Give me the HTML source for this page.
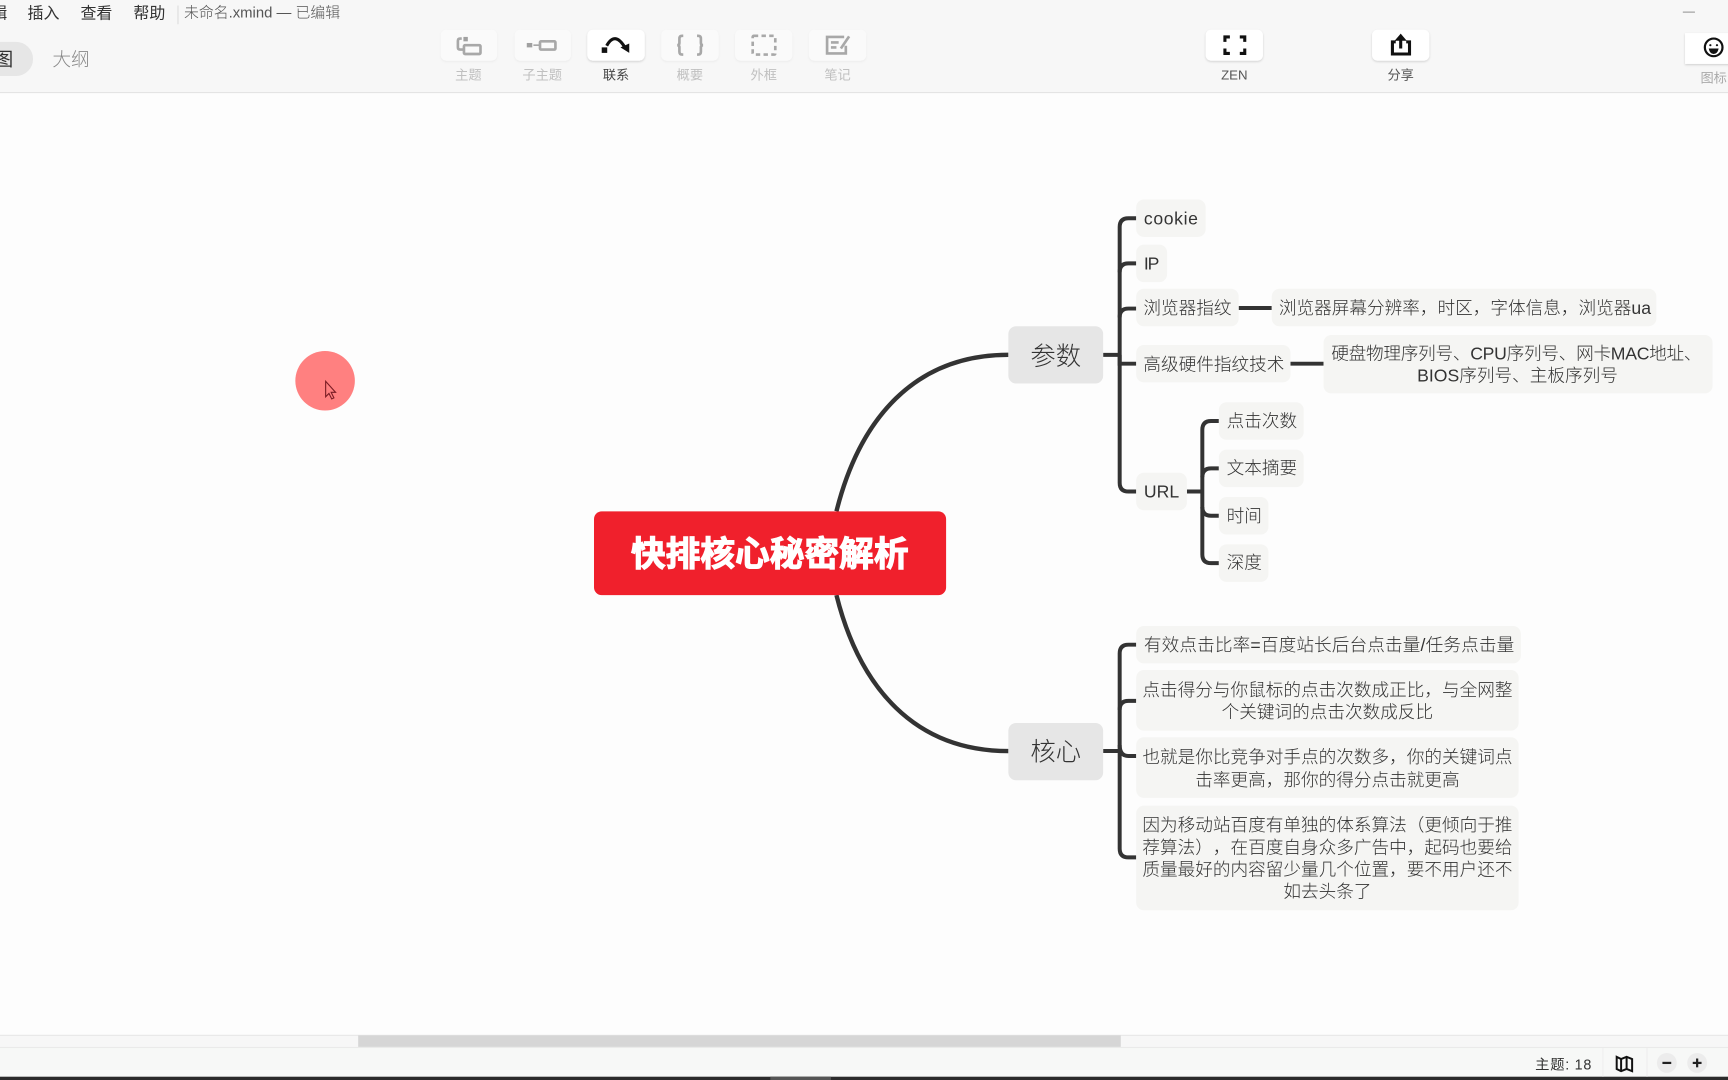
<!DOCTYPE html>
<html><head><meta charset="utf-8"><style>
html,body{margin:0;padding:0;width:1728px;height:1080px;overflow:hidden;background:#fdfdfd}
svg{display:block}
text{font-family:"Liberation Sans","Noto Sans CJK SC",sans-serif;fill:#333;text-spacing-trim:space-all;font-feature-settings:"palt" 0}
.c{text-anchor:middle}
.n{font-size:16px;font-weight:300}
.b{fill:#f5f5f3}
.l{fill:none;stroke:#333;stroke-width:3.6}
.on{fill:#fff}
.off{fill:#fafafa}
.lab{font-size:12px;fill:#c0c0c0;text-anchor:middle}
.g{fill:none;stroke:#a8a8a8;stroke-width:2.4}
.k{fill:none;stroke:#111;stroke-width:2.8}
.m{font-size:14.5px;fill:#333}
</style></head><body>
<svg width="1728" height="1080" viewBox="0 0 1568 980" xmlns="http://www.w3.org/2000/svg">
<defs>
<filter id="s" x="-20%" y="-20%" width="140%" height="150%"><feDropShadow dx="0" dy="1" stdDeviation="1" flood-color="#000" flood-opacity=".16"/></filter>
<filter id="s2" x="-20%" y="-20%" width="140%" height="150%"><feDropShadow dx="0" dy="1" stdDeviation="1" flood-color="#000" flood-opacity=".05"/></filter>
</defs>
<rect width="1568" height="980" fill="#fdfdfd"/>
<!-- top bar -->
<rect width="1568" height="84" fill="#f7f7f7"/>
<rect y="83.500" width="1568" height="1" fill="#e4e4e4"/>
<text x="-8" y="17" class="m">辑</text>
<text x="25" y="17" class="m">插入</text>
<text x="73" y="17" class="m">查看</text>
<text x="121" y="17" class="m">帮助</text>
<rect x="161" y="5" width="1" height="17" fill="#ddd"/>
<text x="167" y="16" font-size="13.500" style="fill:#555;font-weight:300">未命名.xmind — 已编辑</text>
<rect x="1527" y="10.500" width="11" height="1" fill="#999"/>
<rect x="-30" y="38" width="60" height="31" rx="15.500" fill="#e6e6e6"/>
<text x="-5" y="60" font-size="17" style="fill:#333">图</text>
<text x="47.500" y="60" font-size="17" style="fill:#888;font-weight:300">大纲</text>

<!-- toolbar buttons -->
<rect x="400" y="27" width="51" height="28" rx="5" class="off" filter="url(#s2)"/>
<rect x="467" y="27" width="51" height="28" rx="5" class="off" filter="url(#s2)"/>
<rect x="533" y="27" width="52" height="28" rx="5" class="on" filter="url(#s)"/>
<rect x="600" y="27" width="52" height="28" rx="5" class="off" filter="url(#s2)"/>
<rect x="667" y="27" width="52" height="28" rx="5" class="off" filter="url(#s2)"/>
<rect x="734" y="27" width="52" height="28" rx="5" class="off" filter="url(#s2)"/>
<rect x="1094" y="27" width="52" height="28" rx="5" class="on" filter="url(#s)"/>
<rect x="1245" y="27" width="52" height="28" rx="5" class="on" filter="url(#s)"/>
<rect x="1529" y="30" width="50" height="28" class="on" filter="url(#s)"/>
<!-- topic icon -->
<rect x="420.500" y="33.500" width="4" height="4" fill="#a0a0a0"/>
<path d="M419 35h-1.500q-2 0-2 2v6q0 2 2 2h3" class="g"/><rect x="421" y="41" width="15" height="8" rx="1" class="g"/>
<!-- subtopic icon -->
<rect x="478" y="39" width="5" height="4" fill="#a0a0a0"/><rect x="490" y="37.500" width="14" height="7.500" rx="1" class="g"/><path d="M484 41h6" class="g" style="stroke-width:1.500"/>
<!-- relationship icon -->
<rect x="546" y="43" width="5" height="5" fill="#111"/>
<path d="M550.500 41.500Q558 28 567 43" class="k"/><path d="M571 48l-8-5 8-3.500z" fill="#111"/>
<!-- summary -->
<path d="M620 32.500h-1q-2.500 0-2.500 2.500v4q0 2-2 2 2 0 2 2v4q0 2.500 2.500 2.500h1M632.500 32.500h1q2.500 0 2.500 2.500v4q0 2 2 2-2 0-2 2v4q0 2.500-2.500 2.500h-1" class="g"/>
<!-- boundary -->
<rect x="683" y="32.500" width="20.500" height="17" rx="1" class="g" stroke-dasharray="4 3"/>
<!-- note -->
<path d="M766 33.500h-15.500v15h17v-7" class="g"/><path d="M754 38.500h7M754 43h5" class="g"/><path d="M763 44l7.500-11" class="g"/>
<!-- ZEN icon -->
<path d="M1111.500 38v-4.500h4.500M1125 33.500h4.500v4.500M1129.500 44v4.500h-4.500M1116 48.500h-4.500v-4.500" class="k"/>
<!-- share icon -->
<path d="M1266.500 38h-3v11h15.500v-11h-3" class="k"/><path d="M1271 44v-10" class="k"/><path d="M1265.500 37l5.500-6.500 5.500 6.500z" fill="#111"/>
<!-- emoji icon -->
<circle cx="1555" cy="43" r="8" fill="#fff" stroke="#111" stroke-width="2"/><circle cx="1552" cy="41" r="1" fill="#111"/><circle cx="1558" cy="41" r="1" fill="#111"/><path d="M1550.500 44h9q-1 5-4.500 5t-4.500-5z" fill="#111"/>

<text x="425" y="72" class="lab">主题</text>
<text x="492" y="72" class="lab">子主题</text>
<text x="559" y="72" class="lab" style="fill:#444">联系</text>
<text x="626" y="72" class="lab">概要</text>
<text x="693" y="72" class="lab">外框</text>
<text x="760" y="72" class="lab">笔记</text>
<text x="1120" y="72" class="lab" style="fill:#555">ZEN</text>
<text x="1271" y="72" class="lab" style="fill:#555">分享</text>
<text x="1543" y="75" font-size="12" style="fill:#aaa">图标</text>

<!-- cursor highlight -->
<circle cx="295" cy="345.500" r="27" fill="#ff8080"/>
<path d="M295.500 346v14l3-3 2.500 5 2-1-2.500-5h4z" fill="#ff8080" stroke="#7a1c24" stroke-width="1"/>

<!-- connectors -->
<path class="l" style="stroke-width:4" d="M759 464C780 380 830 322 915 322"/>
<path class="l" style="stroke-width:4" d="M759 540C780 624 830 681.500 915 681.500"/>
<path class="l" d="M1001 322H1016M1031 198H1024Q1016 198 1016 206V438Q1016 446 1024 446H1031"/>
<path class="l" d="M1031 239H1024Q1016 239 1016 247M1031 280H1024Q1016 280 1016 288M1016 322V330H1031"/>
<path class="l" d="M1124 279.500H1154M1171 330H1201"/>
<path class="l" d="M1077 446H1091M1106 382H1099Q1091 382 1091 390V503Q1091 511 1099 511H1106"/>
<path class="l" d="M1106 425H1099Q1091 425 1091 433M1091 460Q1091 468 1099 468H1106"/>
<path class="l" d="M1001 681.500H1016M1031 585H1024Q1016 585 1016 593V770Q1016 778 1024 778H1031"/>
<path class="l" d="M1031 636H1024Q1016 636 1016 644M1016 676Q1016 686 1024 686H1031"/>

<!-- central -->
<rect x="539" y="464" width="319.500" height="76" rx="7" fill="#f0202c"/>
<text x="698.500" y="513.500" class="c" font-size="31.500" style="fill:#fff;font-weight:700;stroke:#fff;stroke-width:1">快排核心秘密解析</text>

<!-- main topics -->
<rect x="915" y="296" width="86" height="52" rx="7" fill="#e6e6e6"/>
<text x="958" y="331" class="c" font-size="23" style="font-weight:300">参数</text>
<rect x="915" y="656" width="86" height="52" rx="7" fill="#e6e6e6"/>
<text x="958" y="690" class="c" font-size="23" style="font-weight:300">核心</text>

<!-- nodes -->
<rect class="b" x="1031" y="181" width="63" height="34" rx="7"/>
<text class="n" x="1038" y="203.500" textLength="49" lengthAdjust="spacing">cookie</text>
<rect class="b" x="1031" y="222" width="28" height="34" rx="7"/>
<text class="n" x="1038" y="244.500" textLength="14">IP</text>
<rect class="b" x="1031" y="262" width="93" height="34" rx="7"/>
<text class="n" x="1037.500" y="285">浏览器指纹</text>
<rect class="b" x="1154" y="262" width="349" height="34" rx="7"/>
<text class="n" x="1160.500" y="285">浏览器屏幕分辨率，时区，字体信息，浏览器ua</text>
<rect class="b" x="1031" y="313" width="140" height="34" rx="7"/>
<text class="n" x="1037.500" y="336">高级硬件指纹技术</text>
<rect class="b" x="1201" y="304" width="353" height="53" rx="7"/>
<text class="n" x="1208" y="326" textLength="336">硬盘物理序列号、CPU序列号、网卡MAC地址、</text>
<text class="n c" x="1377" y="346">BIOS序列号、主板序列号</text>
<rect class="b" x="1031" y="429" width="46" height="34" rx="7"/>
<text class="n" x="1038" y="451.500">URL</text>
<rect class="b" x="1106" y="365" width="77" height="34" rx="7"/>
<text class="n" x="1113" y="387.500">点击次数</text>
<rect class="b" x="1106" y="408" width="77" height="34" rx="7"/>
<text class="n" x="1113" y="430">文本摘要</text>
<rect class="b" x="1106" y="451" width="45" height="34" rx="7"/>
<text class="n" x="1113" y="473.500">时间</text>
<rect class="b" x="1106" y="494" width="45" height="34" rx="7"/>
<text class="n" x="1113" y="516">深度</text>

<rect class="b" x="1031" y="568" width="349" height="34" rx="7"/>
<text class="n" x="1038" y="590.500" textLength="336">有效点击比率=百度站长后台点击量/任务点击量</text>
<rect class="b" x="1031" y="608" width="347" height="55" rx="7"/>
<text class="n c" x="1204.500" y="631.500">点击得分与你鼠标的点击次数成正比，与全网整</text>
<text class="n c" x="1204.500" y="651.500">个关键词的点击次数成反比</text>
<rect class="b" x="1031" y="669" width="347" height="55" rx="7"/>
<text class="n c" x="1204.500" y="692.500">也就是你比竞争对手点的次数多，你的关键词点</text>
<text class="n c" x="1204.500" y="713">击率更高，那你的得分点击就更高</text>
<rect class="b" x="1031" y="731" width="347" height="95" rx="7"/>
<text class="n c" x="1204.500" y="754">因为移动站百度有单独的体系算法（更倾向于推</text>
<text class="n c" x="1204.500" y="774.500">荐算法），在百度自身众多广告中，起码也要给</text>
<text class="n c" x="1204.500" y="794.500">质量最好的内容留少量几个位置，要不用户还不</text>
<text class="n c" x="1204.500" y="814.500">如去头条了</text>

<!-- bottom -->
<rect y="939" width="1568" height="11" fill="#f7f7f7"/>
<rect y="939" width="1568" height="1" fill="#e8e8e8"/>
<rect x="325" y="939.500" width="692" height="10.500" fill="#d6d6d6"/>
<rect y="950" width="1568" height="27" fill="#f7f8f7"/>
<rect y="950" width="1568" height="1" fill="#eaeaea"/>
<rect y="977" width="1568" height="3" fill="#2b2b2b"/>
<rect x="699" y="977" width="55" height="3" fill="#555"/>
<text x="1393" y="970.500" font-size="13" style="fill:#333" textLength="51">主题: 18</text>
<rect x="1454" y="951" width="1" height="26" fill="#eee"/>
<path d="M1467 959l4 2 5-2 5 2v11l-5-2-5 2-4-2zM1471 961v11M1476 959v11" fill="none" stroke="#111" stroke-width="1.800"/>
<rect x="1494" y="951" width="1" height="26" fill="#eee"/>
<circle cx="1512.500" cy="964.500" r="9" fill="#ececec"/>
<rect x="1508.500" y="963.500" width="8" height="2" fill="#222"/>
<circle cx="1540" cy="964.500" r="9" fill="#ececec"/>
<rect x="1536" y="963.500" width="8" height="2" fill="#222"/><rect x="1539" y="960.500" width="2" height="8" fill="#222"/>
</svg>
</body></html>
